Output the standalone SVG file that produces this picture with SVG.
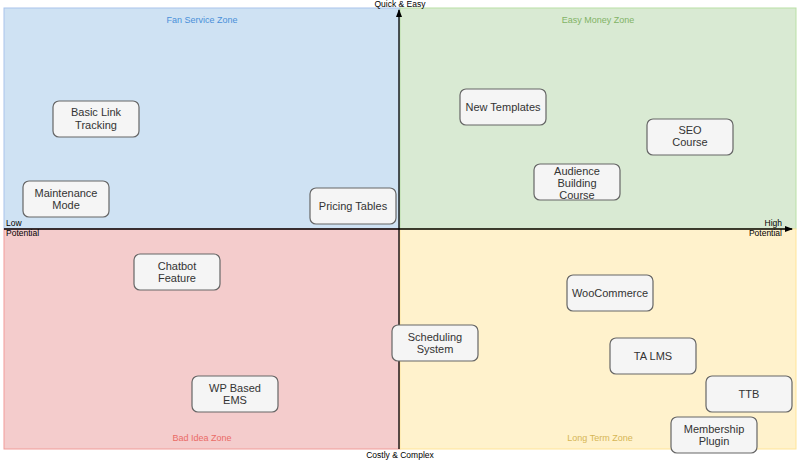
<svg xmlns="http://www.w3.org/2000/svg" width="800" height="460" viewBox="0 0 800 460">
<style>
text{font-family:"Liberation Sans",Arial,sans-serif;}
.n rect{fill:#f5f5f5;stroke:#666;stroke-width:1.2;}
.n text{font-size:11px;fill:#333;text-anchor:middle;}
.z{font-size:9px;text-anchor:middle;}
.a{font-size:8.5px;fill:#000;}
</style>
<defs><marker id="ar" markerWidth="8" markerHeight="8" refX="7" refY="4" orient="auto" markerUnits="userSpaceOnUse"><path d="M0,1 L8,4 L0,7 z" fill="#000"/></marker></defs>
<rect width="800" height="460" fill="#fff"/>
<g id="zones">
<rect x="4" y="8" width="396" height="221" fill="#cfe2f3" stroke="#a9c4eb"/>
<rect x="400" y="8" width="396" height="221" fill="#d9ead3" stroke="#b9e0a5"/>
<rect x="4" y="229" width="396" height="220" fill="#f4cccc" stroke="#f19c99"/>
<rect x="400" y="229" width="396" height="220" fill="#fff2cc" stroke="#ffe599"/>
<text class="z" x="202" y="23" fill="#4a90d9">Fan Service Zone</text>
<text class="z" x="598" y="23" fill="#82b366">Easy Money Zone</text>
<text class="z" x="202" y="441" fill="#ea6b66">Bad Idea Zone</text>
<text class="z" x="600" y="441" fill="#d6b656">Long Term Zone</text>
</g>
<g id="connectors">
<line x1="4" y1="229" x2="792" y2="229" stroke="#000" stroke-width="1.3" marker-end="url(#ar)"/>
<line x1="399" y1="449" x2="399" y2="10" stroke="#000" stroke-width="1.3" marker-end="url(#ar)"/>
</g>
<g id="axis-labels">
<text class="a" x="400" y="7" text-anchor="middle">Quick &amp; Easy</text>
<text class="a" x="400" y="458" text-anchor="middle">Costly &amp; Complex</text>
<text class="a" x="6" y="226">Low</text>
<text class="a" x="6" y="236">Potential</text>
<text class="a" x="782" y="226" text-anchor="end">High</text>
<text class="a" x="782" y="236" text-anchor="end">Potential</text>
</g>
<g id="n1" class="n"><rect x="53" y="101" width="86" height="36" rx="6"/><text x="96" y="116">Basic Link</text><text x="96" y="129">Tracking</text></g>
<g id="n2" class="n"><rect x="23" y="181" width="86" height="36" rx="6"/><text x="66" y="197">Maintenance</text><text x="66" y="209">Mode</text></g>
<g id="n3" class="n"><rect x="310" y="188" width="86" height="36" rx="6"/><text x="353" y="210">Pricing Tables</text></g>
<g id="n4" class="n"><rect x="460" y="89" width="86" height="36" rx="6"/><text x="503" y="111">New Templates</text></g>
<g id="n5" class="n"><rect x="647" y="119" width="86" height="36" rx="6"/><text x="690" y="134">SEO</text><text x="690" y="146">Course</text></g>
<g id="n6" class="n"><rect x="534" y="164" width="86" height="36" rx="6"/><text x="577" y="175">Audience</text><text x="577" y="187">Building</text><text x="577" y="199">Course</text></g>
<g id="n7" class="n"><rect x="134" y="254" width="86" height="36" rx="6"/><text x="177" y="270">Chatbot</text><text x="177" y="282">Feature</text></g>
<g id="n8" class="n"><rect x="192" y="376" width="86" height="36" rx="6"/><text x="235" y="392">WP Based</text><text x="235" y="404">EMS</text></g>
<g id="n9" class="n"><rect x="392" y="325" width="86" height="36" rx="6"/><text x="435" y="341">Scheduling</text><text x="435" y="353">System</text></g>
<g id="n10" class="n"><rect x="567" y="275" width="86" height="36" rx="6"/><text x="610" y="297">WooCommerce</text></g>
<g id="n11" class="n"><rect x="610" y="338" width="86" height="36" rx="6"/><text x="653" y="360">TA LMS</text></g>
<g id="n12" class="n"><rect x="706" y="376" width="86" height="36" rx="6"/><text x="749" y="398">TTB</text></g>
<g id="n13" class="n"><rect x="671" y="417" width="86" height="36" rx="6"/><text x="714" y="433">Membership</text><text x="714" y="445">Plugin</text></g>
</svg>
